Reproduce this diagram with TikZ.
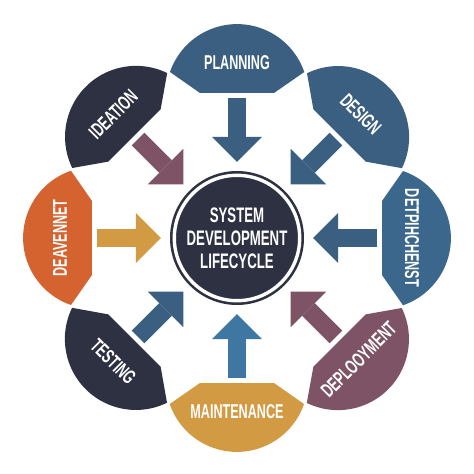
\documentclass[tikz,border=0pt]{standalone}
\usepackage{fontspec}
\setmainfont{Liberation Sans}
\newfontfamily\labelfont[FakeStretch=0.63]{Liberation Sans}
\usetikzlibrary{arrows.meta}
\definecolor{sdlcNavy}{HTML}{2E3142}
\definecolor{sdlcBlue}{HTML}{3A5F80}
\definecolor{sdlcSky}{HTML}{3C678C}
\definecolor{sdlcLight}{HTML}{3D77A2}
\definecolor{sdlcMauve}{HTML}{7D5365}
\definecolor{sdlcGold}{HTML}{D29A42}
\definecolor{sdlcOrange}{HTML}{D4632F}
% one petal: angle, colour
\newcommand{\petal}[2]{%
	\begin{scope}[rotate=#1-90]
		\fill[#2] (-37,145) -- (-67,166) arc[start angle=161, end angle=19, radius=71pt] -- (37,145) -- cycle;
	\end{scope}}

\begin{document}
\begin{tikzpicture}[x=1pt, y=1pt,
		petaltext/.style={text=white, inner sep=0pt, font=\labelfont\bfseries\fontsize{20}{22}\selectfont},
		flow/.style={line width=18pt, -{Triangle[width=50pt, length=25pt, line width=0pt]}, shorten >=9pt}]
		%-------------------------------------------------------------------------------
		% SDLC wheel
		%-------------------------------------------------------------------------------
		\fill[white] (-237,-236) rectangle (237,238);
		\useasboundingbox (-237,-236) rectangle (237,238);
		
		% outer petals
		\petal{90}{sdlcBlue}
		\petal{45}{sdlcBlue}
		\petal{0}{sdlcSky}
		\petal{-45}{sdlcMauve}
		\petal{-90}{sdlcGold}
		\petal{-135}{sdlcNavy}
		\petal{180}{sdlcOrange}
		\petal{135}{sdlcNavy}
		
		% hub
		\node[circle, fill=sdlcNavy, draw=sdlcNavy, line width=2.6pt, double=white, double distance=3.4pt,
			minimum size=125.4pt, inner sep=0pt, outer sep=4.3pt, text=white, align=center,
			font=\labelfont\bfseries\fontsize{21}{23}\selectfont] (hub) 
			at (0,0) {SYSTEM\\DEVELOPMENT\\LIFECYCLE};
		
		% arrow roots
		\coordinate (planIn) at (90:140);
		\coordinate (designIn) at (45:140);
		\coordinate (detpIn) at (0:140);
		\coordinate (deployIn) at (-45:140);
		\coordinate (maintIn) at (-90:140);
		\coordinate (testIn) at (-135:140);
		\coordinate (deavIn) at (180:140);
		\coordinate (ideaIn) at (135:140);
		
		% arrows into the hub
		\draw[flow, sdlcBlue] (planIn) -- (hub);
		\draw[flow, sdlcBlue] (designIn) -- (hub);
		\draw[flow, sdlcBlue] (detpIn) -- (hub);
		\draw[flow, sdlcMauve] (deployIn) -- (hub);
		\draw[flow, sdlcLight] (maintIn) -- (hub);
		\draw[flow, sdlcBlue] (testIn) -- (hub);
		\draw[flow, sdlcGold] (deavIn) -- (hub);
		\draw[flow, sdlcMauve] (ideaIn) -- (hub);
		
		% labels
		\node[petaltext] (plan) at (90:175) {PLANNING};
		\node[petaltext, rotate=-45] (design) at (45:175) {DESIGN};
		\node[petaltext, rotate=-90] (detp) at (0:175) {DETPIHCHENST};
		\node[petaltext, rotate=45] (deploy) at (-45:172) {DEPLOOYMENT};
		\node[petaltext] (maint) at (-90:174) {MAINTENANCE};
		\node[petaltext, rotate=-45] (test) at (-135:175) {TESTING};
		\node[petaltext, rotate=90] (deav) at (180:177) {DEAVENNET};
		\node[petaltext, rotate=45] (idea) at (135:175) {IDEATION};
\end{tikzpicture}
\end{document}
